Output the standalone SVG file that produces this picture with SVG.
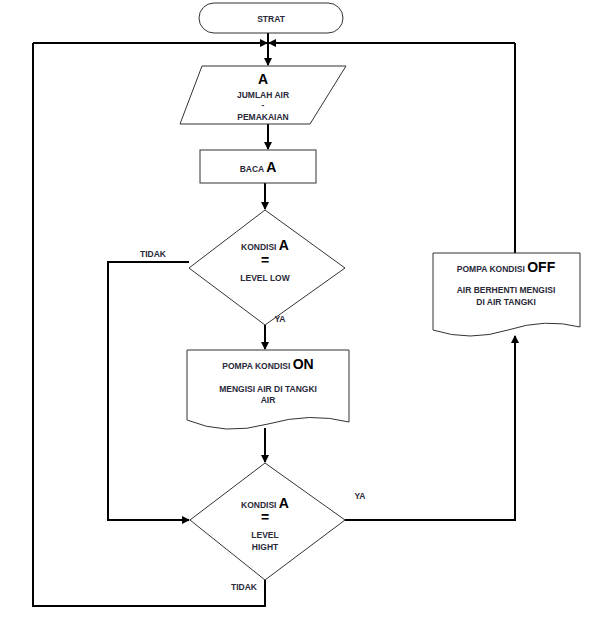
<svg xmlns="http://www.w3.org/2000/svg" width="616" height="628" viewBox="0 0 616 628">
<style>
.s{fill:#fff;stroke:#333;stroke-width:1}
.c{fill:none;stroke:#000;stroke-width:2}
text{font-family:"Liberation Sans",Arial,sans-serif;font-size:8.5px;font-weight:bold;fill:#2a2a3a;text-anchor:middle}
.b{font-size:14px;fill:#000}
</style>
<defs><marker id="a" markerWidth="8" markerHeight="8" refX="7" refY="4" orient="auto" markerUnits="userSpaceOnUse"><path d="M0,0L8,4L0,8z" fill="#000"/></marker></defs>
<rect width="616" height="628" fill="#fff"/>
<g id="connectors">
<path class="c" d="M268,33V65" marker-end="url(#a)"/>
<path class="c" d="M33,43H267" marker-end="url(#a)"/>
<path class="c" d="M515,43H269" marker-end="url(#a)"/>
<path class="c" d="M268,124V149" marker-end="url(#a)"/>
<path class="c" d="M265,183V209" marker-end="url(#a)"/>
<path class="c" d="M265,325V349" marker-end="url(#a)"/>
<path class="c" d="M265,428V462" marker-end="url(#a)"/>
<path class="c" d="M189,262H108V520H189" marker-end="url(#a)"/>
<path class="c" d="M345,520H515V336" marker-end="url(#a)"/>
<path class="c" d="M515,43V253"/>
<path class="c" d="M265,580V606H33V43"/>
</g>
<g id="start"><rect class="s" x="199" y="3" width="144" height="30" rx="15"/><text x="271" y="22">STRAT</text></g>
<g id="input"><path class="s" d="M202,66H346L310,124H180Z"/><text class="b" x="263" y="84">A</text><text x="263" y="98">JUMLAH AIR</text><text x="263" y="108">-</text><text x="263" y="120">PEMAKAIAN</text></g>
<g id="baca"><rect class="s" x="200" y="150" width="116" height="33"/><text x="258" y="172">BACA <tspan class="b">A</tspan></text></g>
<g id="cond1"><path class="s" d="M265,210L345,268L265,325L189,268Z"/><text x="265" y="250">KONDISI <tspan class="b">A</tspan></text><text class="b" x="265" y="265">=</text><text x="265" y="281">LEVEL LOW</text></g>
<g id="pumpon"><path class="s" d="M187,350H349V422Q310,412 268,424Q225,436 187,420Z"/><text x="268" y="369">POMPA KONDISI <tspan class="b">ON</tspan></text><text x="268" y="392">MENGISI AIR DI TANGKI</text><text x="268" y="403">AIR</text></g>
<g id="cond2"><path class="s" d="M265,463L345,520L265,580L190,520Z"/><text x="265" y="508">KONDISI <tspan class="b">A</tspan></text><text class="b" x="265" y="522">=</text><text x="265" y="538">LEVEL</text><text x="265" y="550">HIGHT</text></g>
<g id="pumpoff"><path class="s" d="M433,253H580V327Q545,318 508,330Q470,342 433,330Z"/><text x="506" y="272">POMPA KONDISI <tspan class="b">OFF</tspan></text><text x="506" y="293">AIR BERHENTI MENGISI</text><text x="506" y="305">DI AIR TANGKI</text></g>
<g id="labels"><text x="153" y="257">TIDAK</text><text x="280" y="322">YA</text><text x="360" y="499">YA</text><text x="244" y="590">TIDAK</text></g>
</svg>
